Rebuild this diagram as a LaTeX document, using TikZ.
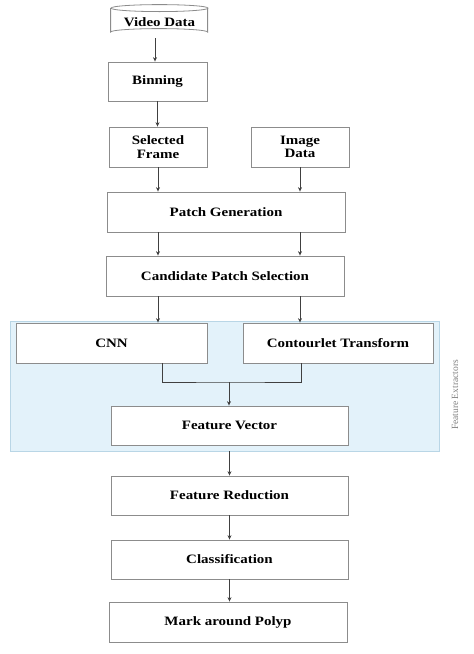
\documentclass[tikz,border=0pt]{standalone}
\usepackage{fontspec}
\setmainfont{Liberation Serif}[FakeStretch=1.17]
\newfontfamily\sidefont{Liberation Serif}
\usetikzlibrary{arrows.meta}
\definecolor{panelblue}{HTML}{E3F2FA}
\definecolor{panelline}{HTML}{B9D6E6}
\definecolor{boxline}{HTML}{8C8C8C}
\definecolor{flowline}{HTML}{404040}
\begin{document}
\begin{tikzpicture}[x=1pt,y=-1pt]

    \tikzset{
      stage/.style={
        draw=boxline,
        fill=white,
        line width=0.8pt,
        align=center,
        inner sep=0pt,
        minimum height=40pt,
        font=\fontsize{12.8}{13.5}\selectfont\bfseries,
      },
      flow/.style={
        draw=flowline,
        line width=0.8pt,
        -{Stealth[length=4.5pt,width=4pt]},
      },
      mergeline/.style={
        draw=flowline,
        line width=0.8pt,
      },
    }
    \useasboundingbox (0,0) rectangle (474,654);
	% feature extraction panel
	\node[draw=panelline,fill=panelblue,line width=0.8pt,minimum width=429pt,minimum height=130pt,inner sep=0pt] (fe) at (224.5,386) {};
	\node[rotate=90,text=gray,font=\sidefont\fontsize{9.5}{10}\selectfont] (felabel) at (455,395) {Feature Extractors};
	% video data drum
	\node[stage,draw=none,fill=none,minimum width=97pt,minimum height=31pt] (vd) at (159.5,20.5) {};
	\draw[boxline,fill=white,line width=0.8pt] (vd.north west) ++(0,3.5) -- ++(0,24) arc [start angle=180, end angle=360, x radius=48.5, y radius=3.5] -- ++(0,-24);
	\draw[boxline,fill=white,line width=0.8pt] (vd.north) ++(0,3.5) ellipse [x radius=48.5, y radius=3.5];
	\node[font=\fontsize{12.8}{13.5}\selectfont\bfseries] (vdtext) at (159.5,22.5) {Video Data};
	% stages
	\node[stage,minimum width=99pt,minimum height=39pt] (bin) at (157.5,81.5) {Binning};
	\node[stage,minimum width=98pt] (sf) at (158,147) {Selected\\Frame};
	\node[stage,minimum width=98pt] (img) at (300,147) {Image\\Data};
	\node[stage,minimum width=238pt] (pg) at (226,212) {Patch Generation};
	\node[stage,minimum width=238pt] (cps) at (225,276) {Candidate Patch Selection};
	\node[stage,minimum width=191pt] (cnn) at (111.5,343) {CNN};
	\node[stage,minimum width=190pt] (ct) at (338,343) {Contourlet Transform};
	\node[stage,minimum width=237pt,minimum height=39pt] (fv) at (229.5,425.5) {Feature Vector};
	\node[stage,minimum width=237pt,minimum height=39pt] (fr) at (229.5,495.5) {Feature Reduction};
	\node[stage,minimum width=237pt,minimum height=39pt] (cls) at (229.5,559.5) {Classification};
	\node[stage,minimum width=238pt] (mark) at (228,622) {Mark around Polyp};
	% connectors
	\coordinate (vdout) at (155,38);
	\coordinate (cnnout) at (162,363);
	\coordinate (ctout) at (301,363);
	\coordinate (merge) at (229,382);
	\draw[flow] (vdout) -- (vdout |- bin.north);
	\draw[flow] (bin.south) -- (bin.south |- sf.north);
	\draw[flow] (sf.south) -- (sf.south |- pg.north);
	\draw[flow] (img.south) -- (img.south |- pg.north);
	\draw[flow] (sf.south |- pg.south) -- (sf.south |- cps.north);
	\draw[flow] (img.south |- pg.south) -- (img.south |- cps.north);
	\draw[flow] (sf.south |- cps.south) -- (sf.south |- cnn.north);
	\draw[flow] (img.south |- cps.south) -- (img.south |- ct.north);
	\draw[mergeline] (cnnout) |- (merge) -| (ctout);
	\draw[flow] (merge) -- (merge |- fv.north);
	\draw[flow] (fv.south |- fe.south) -- (fv.south |- fr.north);
	\draw[flow] (fr) -- (cls);
	\draw[flow] (cls.south) -- (cls.south |- mark.north);

\end{tikzpicture}
\end{document}
